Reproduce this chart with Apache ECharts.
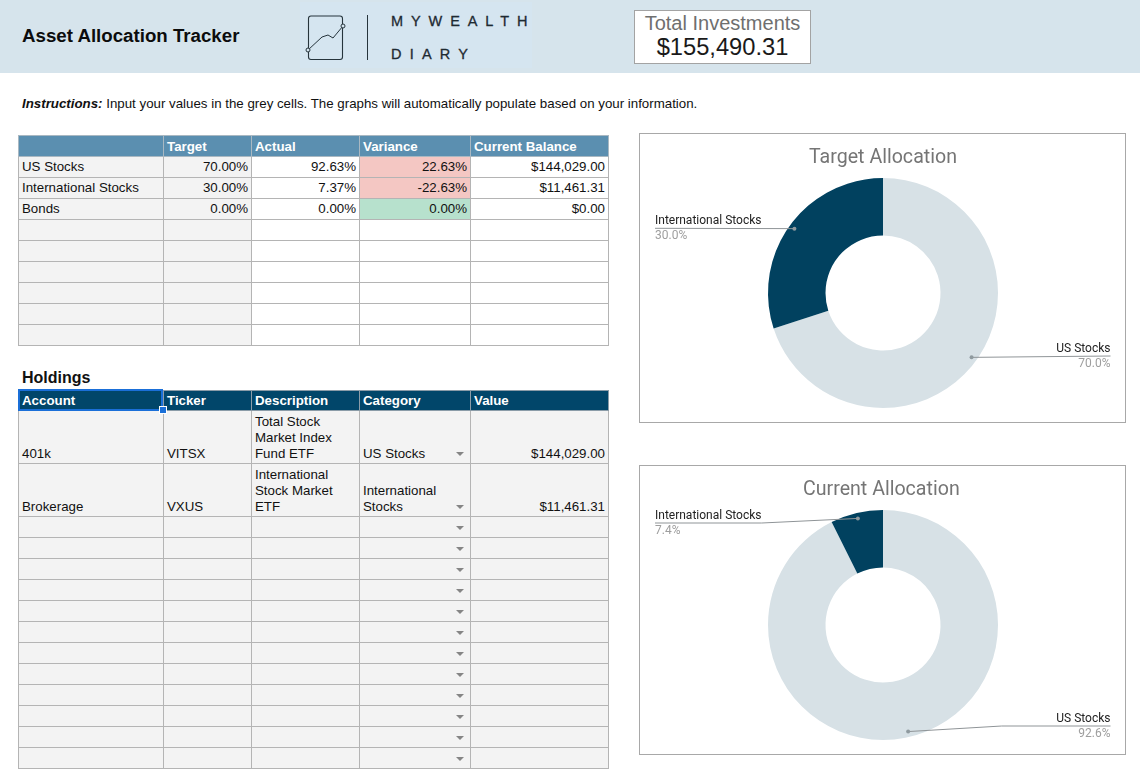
<!DOCTYPE html>
<html><head><meta charset="utf-8">
<script src="https://cdn.jsdelivr.net/npm/echarts@6/dist/echarts.min.js"></script>
<style>
html,body{margin:0;padding:0;background:#fff;width:1140px;height:769px;overflow:hidden;font-family:"Liberation Sans",Arial,sans-serif;color:#111}
.abs{position:absolute;white-space:nowrap}
#band{left:0;top:0;width:1140px;height:72.5px;background:#d6e4ec}
#logoBg{left:300px;top:2px;width:232px;height:66px;background:#d5e5f0}
table{position:absolute;border-collapse:collapse;table-layout:fixed;font-size:13.3px;line-height:16px}
td{border:1px solid #b4b4b4;padding:0 3px 1px 3px;vertical-align:bottom;overflow:hidden;white-space:nowrap;box-sizing:border-box;position:relative}
td.r{text-align:right}
td.g{background:#f3f3f3}
td.w{white-space:normal}
tr.s td{padding-bottom:2px}
tr.h1 td{background:#5b8fb0;color:#fff;font-weight:bold;border-color:#a9b8c2}
tr.h2 td{background:#01466a;color:#fff;font-weight:bold;border-color:#8b9ca8}
.tri{position:absolute;right:6px;bottom:7px;width:0;height:0;border-left:4px solid transparent;border-right:4px solid transparent;border-top:4px solid #858585}
.frame{position:absolute;border:1px solid #a8a8a8;box-sizing:border-box;background:#fff}
#chart{position:absolute;left:0;top:0;width:1140px;height:769px;pointer-events:none}
</style></head>
<body>
<div id="band" class="abs"></div>
<div id="logoBg" class="abs"></div>
<div class="abs" style="left:22px;top:25px;font-size:18.7px;font-weight:bold;line-height:22px;color:#0c0c0c">Asset Allocation Tracker</div>
<svg class="abs" style="left:300px;top:10px" width="75" height="56" viewBox="0 0 75 56">
 <rect x="8.5" y="6" width="34" height="43.5" rx="2.5" fill="none" stroke="#26343c" stroke-width="1.1"/>
 <polyline points="8,40 22,27 28,25 33,28 43,16" fill="none" stroke="#26343c" stroke-width="1"/>
 <circle cx="8" cy="40" r="2" fill="#d5e5f0" stroke="#26343c"/><circle cx="43" cy="16" r="2" fill="#d5e5f0" stroke="#26343c"/>
 <line x1="67.5" y1="5" x2="67.5" y2="50" stroke="#26343c" stroke-width="1"/>
</svg>
<div class="abs" style="left:391px;top:13px;font-size:14.5px;line-height:16px;letter-spacing:7.9px;color:#1e2a32;-webkit-text-stroke:.3px #1e2a32">MYWEALTH</div>
<div class="abs" style="left:391px;top:46px;font-size:14.5px;line-height:16px;letter-spacing:8.2px;color:#1e2a32;-webkit-text-stroke:.3px #1e2a32">DIARY</div>
<div class="abs" style="left:634px;top:10px;width:177px;height:54px;background:#fff;border:1px solid #a3a3a3;box-sizing:border-box;text-align:center">
 <div style="font-size:20px;line-height:22px;color:#6f6f6f;margin-top:1px">Total Investments</div>
 <div style="font-size:23.7px;line-height:26px;color:#1a1a1a;margin-top:0">$155,490.31</div>
</div>
<div class="abs" style="left:22px;top:96px;font-size:13.3px;line-height:16px"><b><i>Instructions:</i></b> Input your values in the grey cells. The graphs will automatically populate based on your information.</div>
<div id="tables"></div>
<div class="abs" style="left:22px;top:368.5px;font-size:16px;font-weight:bold;line-height:18px">Holdings</div>
<div class="abs" style="left:18px;top:389px;width:145px;height:22px;border:2px solid #1a6fd8;box-sizing:border-box;z-index:3"></div>
<div class="abs" style="left:159px;top:406px;width:6px;height:6px;background:#1a6fd8;border:1px solid #fff;z-index:4"></div>
<div class="frame" style="left:639px;top:133px;width:487px;height:290px"></div>
<div class="frame" style="left:639px;top:465px;width:487px;height:290px"></div>
<div id="chart"></div>
<script>
// ---- data ----
const summaryHeaders=['','Target','Actual','Variance','Current Balance'];
const categories=['US Stocks','International Stocks','Bonds'];
const targetPct=[70,30,0];
const actualPct=[92.63,7.37,0];
const variancePct=[22.63,-22.63,0];
const balances=[144029.00,11461.31,0];
const holdingHeaders=['Account','Ticker','Description','Category','Value'];
const accounts=['401k','Brokerage'];
const tickers=['VITSX','VXUS'];
const descriptions=['Total Stock Market Index Fund ETF','International Stock Market ETF'];
const holdingCategories=['US Stocks','International Stocks'];
const holdingValues=[144029.00,11461.31];
const chartTitles=['Target Allocation','Current Allocation'];
const sliceColors=['#d7e1e6','#01415f'];

// ---- layout ----
const colW=[145,88,108,111,138];
const money=v=>'$'+v.toLocaleString('en-US',{minimumFractionDigits:2,maximumFractionDigits:2});
const pct=v=>v.toFixed(2)+'%';
const cg='<colgroup>'+colW.map(w=>`<col style="width:${w}px">`).join('')+'</colgroup>';
let t1=`<table style="left:18px;top:135px;width:590px">${cg}<tr class="h1" style="height:21px">`+summaryHeaders.map(h=>`<td>${h}</td>`).join('')+'</tr>';
for(let i=0;i<9;i++){
  const known=i<categories.length;
  const vc=known?(variancePct[i]===0?'#b7e1cd':'#f4c7c3'):'#fff';
  t1+=`<tr class="s" style="height:21px"><td class="g">${known?categories[i]:''}</td><td class="g r">${known?pct(targetPct[i]):''}</td><td class="r">${known?pct(actualPct[i]):''}</td><td class="r" style="background:${vc}">${known?pct(variancePct[i]):''}</td><td class="r">${known?money(balances[i]):''}</td></tr>`;
}
t1+='</table>';
let t2=`<table style="left:18px;top:390px;width:590px">${cg}<tr class="h2" style="height:20px">`+holdingHeaders.map(h=>`<td>${h}</td>`).join('')+'</tr>';
for(let i=0;i<14;i++){
  const known=i<accounts.length;
  t2+=`<tr style="height:${known?53:21}px"><td class="g">${known?accounts[i]:''}</td><td class="g">${known?tickers[i]:''}</td><td class="g w">${known?descriptions[i]:''}</td><td class="g w" style="padding-right:22px">${known?holdingCategories[i]:''}<span class="tri"></span></td><td class="g r">${known?money(holdingValues[i]):''}</td></tr>`;
}
t2+='</table>';
document.getElementById('tables').innerHTML=t1+t2;

// ---- charts ----
const R=115, dotR=109.5;
const centers=[[883,293],[883,625]];
const titlePos=[[804,143],[798,475]];
const lineY=[[356,228.3],[726,523]];
const elbowX=[[null,null],[1001.7,761.7]];
const labelL=655,labelRt=1110.5;
const seriesValues=[targetPct,balances];
function anchor(s,i){
  const vals=seriesValues[s].filter(v=>v>0);
  const sum=vals.reduce((a,b)=>a+b,0);
  let acc=0;for(let k=0;k<i;k++)acc+=vals[k];
  const a=(acc+vals[i]/2)/sum*2*Math.PI;
  return [centers[s][0]+dotR*Math.sin(a),centers[s][1]-dotR*Math.cos(a)];
}
function pieSeries(s){
  return {type:'pie',center:centers[s],radius:[R/2,R],startAngle:90,clockwise:true,silent:true,
    data:categories.map((c,i)=>({name:c,value:seriesValues[s][i],itemStyle:{color:sliceColors[i]}})).filter(d=>d.value>0),
    label:{show:true,position:'outside',formatter:p=>`{n|${p.name}}\n{p|${p.percent.toFixed(1)}%}`,rich:{
      n:{fontSize:12,lineHeight:15,color:'#222',fontFamily:'Roboto'},
      p:{fontSize:12,lineHeight:15,color:'#9e9e9e',fontFamily:'Roboto'}}},
    labelLine:{show:false},
    labelLayout:function(p){
      const i=p.dataIndex,left=i===1;
      return {x:left?labelL:labelRt,y:lineY[s][i]+0.5,align:left?'left':'right',verticalAlign:'middle'};
    }};
}
const chart=echarts.init(document.getElementById('chart'),null,{renderer:'canvas'});
const overlays=[];
[0,1].forEach(s=>{seriesValues[s].filter(v=>v>0).forEach((v,i)=>{
  const d=anchor(s,i),y=lineY[s][i],end=i===1?labelL:labelRt,ex=elbowX[s][i];
  const pts=ex?[d,[ex,y],[end,y]]:[d,[end,y]];
  overlays.push({type:'polyline',shape:{points:pts},style:{stroke:'#8f9497',lineWidth:1,fill:null},z:99,silent:true});
  overlays.push({type:'circle',shape:{cx:d[0],cy:d[1],r:2},style:{fill:'#8f9a9f'},z:100,silent:true});
});});
chart.setOption({animation:false,backgroundColor:'transparent',
  title:chartTitles.map((t,s)=>({text:t,left:titlePos[s][0],top:titlePos[s][1],
    textStyle:{fontSize:19.6,fontWeight:'normal',color:'#757575',fontFamily:'Roboto'}})),
  series:[pieSeries(0),pieSeries(1)],
  graphic:overlays});
</script>
</body></html>
